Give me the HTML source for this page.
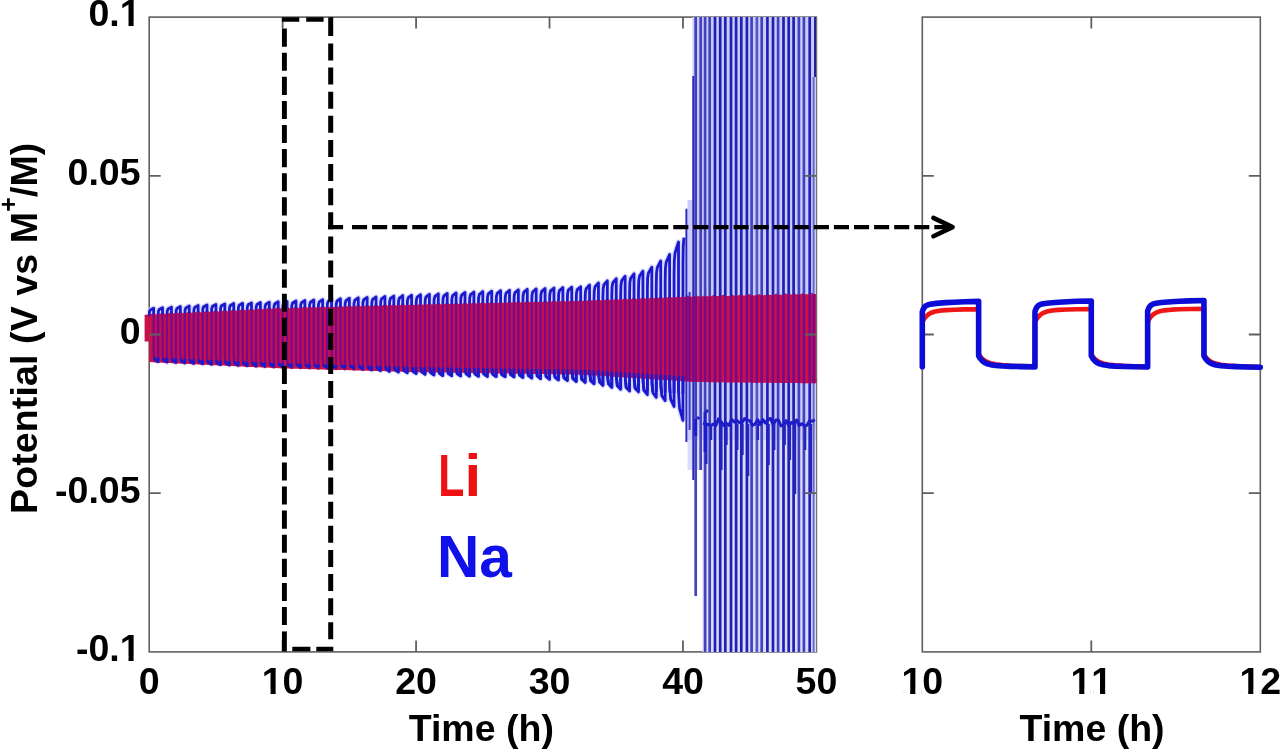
<!DOCTYPE html>
<html><head><meta charset="utf-8"><title>Potential vs Time</title>
<style>html,body{margin:0;padding:0;background:#fff;}body{width:1280px;height:752px;overflow:hidden;}svg{display:block;}</style>
</head><body>
<svg width="1280" height="752" viewBox="0 0 1280 752">
<defs>
<clipPath id="cm"><rect x="143.2" y="17.1" width="673.2" height="634.8"/></clipPath>
<clipPath id="cr"><rect x="918.3" y="17.1" width="342.0" height="634.8"/></clipPath>
<clipPath id="cb"><polygon points="149.2,314.7 152.5,314.5 155.9,314.4 159.2,314.2 162.5,314.1 165.9,313.9 169.2,313.8 172.6,313.6 175.9,313.5 179.2,313.3 182.6,313.2 185.9,313.0 189.2,312.9 192.6,312.7 195.9,312.6 199.2,312.4 202.6,312.3 205.9,312.1 209.2,312.0 212.6,311.8 215.9,311.7 219.3,311.5 222.6,311.3 225.9,311.2 229.3,311.0 232.6,310.8 235.9,310.7 239.3,310.5 242.6,310.3 245.9,310.2 249.3,310.0 252.6,309.8 256.0,309.7 259.3,309.5 262.6,309.3 266.0,309.2 269.3,309.0 272.6,308.8 276.0,308.6 279.3,308.5 282.6,308.3 286.0,308.2 289.3,308.1 292.6,308.1 296.0,308.0 299.3,307.9 302.7,307.8 306.0,307.7 309.3,307.6 312.7,307.5 316.0,307.5 319.3,307.4 322.7,307.3 326.0,307.2 329.3,307.1 332.7,307.0 336.0,307.0 339.4,306.9 342.7,306.8 346.0,306.7 349.4,306.6 352.7,306.5 356.0,306.4 359.4,306.4 362.7,306.3 366.0,306.2 369.4,306.1 372.7,306.0 376.0,305.9 379.4,305.9 382.7,305.8 386.1,305.7 389.4,305.6 392.7,305.5 396.1,305.4 399.4,305.3 402.7,305.3 406.1,305.2 409.4,305.1 412.7,305.0 416.1,304.9 419.4,304.8 422.8,304.8 426.1,304.7 429.4,304.6 432.8,304.5 436.1,304.4 439.4,304.4 442.8,304.3 446.1,304.2 449.4,304.1 452.8,304.1 456.1,304.0 459.4,303.9 462.8,303.8 466.1,303.7 469.5,303.7 472.8,303.6 476.1,303.5 479.5,303.4 482.8,303.3 486.1,303.3 489.5,303.2 492.8,303.1 496.1,303.0 499.5,303.0 502.8,302.9 506.2,302.8 509.5,302.7 512.8,302.6 516.2,302.6 519.5,302.5 522.8,302.4 526.2,302.3 529.5,302.3 532.8,302.2 536.2,302.1 539.5,302.0 542.8,301.9 546.2,301.9 549.5,301.8 552.9,301.7 556.2,301.6 559.5,301.6 562.9,301.5 566.2,301.4 569.5,301.3 572.9,301.2 576.2,301.2 579.5,301.1 582.9,301.0 586.2,300.9 589.6,300.7 592.9,300.6 596.2,300.5 599.6,300.4 602.9,300.2 606.2,300.1 609.6,300.0 612.9,299.8 616.2,299.7 619.6,299.6 622.9,299.4 626.2,299.3 629.6,299.2 632.9,299.0 636.3,298.9 639.6,298.8 642.9,298.7 646.3,298.5 649.6,298.4 652.9,298.3 656.3,298.1 659.6,298.0 662.9,297.9 666.3,297.7 669.6,297.6 673.0,297.5 676.3,297.3 679.6,297.2 683.0,297.1 686.3,297.0 689.6,296.8 693.0,296.7 696.3,296.6 699.6,296.5 703.0,296.4 706.3,296.4 709.6,296.3 713.0,296.2 716.3,296.1 719.7,296.1 723.0,296.0 726.3,295.9 729.7,295.9 733.0,295.8 736.3,295.7 739.7,295.6 743.0,295.6 746.3,295.5 749.7,295.4 753.0,295.4 756.4,295.3 759.7,295.2 763.0,295.2 766.4,295.1 769.7,295.0 773.0,294.9 776.4,294.9 779.7,294.8 783.0,294.7 786.4,294.7 789.7,294.6 793.0,294.5 796.4,294.4 799.7,294.4 803.1,294.3 806.4,294.2 809.7,294.2 813.1,294.1 816.4,294.0 816.4,383.3 813.1,383.3 809.7,383.2 806.4,383.2 803.1,383.2 799.7,383.1 796.4,383.1 793.0,383.0 789.7,383.0 786.4,383.0 783.0,382.9 779.7,382.9 776.4,382.9 773.0,382.8 769.7,382.8 766.4,382.8 763.0,382.7 759.7,382.7 756.4,382.7 753.0,382.6 749.7,382.6 746.3,382.6 743.0,382.5 739.7,382.5 736.3,382.4 733.0,382.4 729.7,382.4 726.3,382.3 723.0,382.3 719.7,382.3 716.3,382.2 713.0,382.2 709.6,382.2 706.3,382.1 703.0,382.1 699.6,382.1 696.3,382.0 693.0,381.8 689.6,381.6 686.3,381.4 683.0,381.2 679.6,380.9 676.3,380.7 673.0,380.5 669.6,380.3 666.3,380.1 662.9,379.9 659.6,379.7 656.3,379.4 652.9,379.2 649.6,379.0 646.3,378.8 642.9,378.6 639.6,378.4 636.3,378.2 632.9,377.9 629.6,377.7 626.2,377.5 622.9,377.3 619.6,377.1 616.2,376.9 612.9,376.7 609.6,376.4 606.2,376.2 602.9,376.0 599.6,375.8 596.2,375.6 592.9,375.4 589.6,375.2 586.2,374.9 582.9,374.7 579.5,374.7 576.2,374.6 572.9,374.6 569.5,374.5 566.2,374.5 562.9,374.4 559.5,374.4 556.2,374.3 552.9,374.3 549.5,374.2 546.2,374.2 542.8,374.1 539.5,374.0 536.2,374.0 532.8,373.9 529.5,373.9 526.2,373.8 522.8,373.8 519.5,373.7 516.2,373.7 512.8,373.6 509.5,373.6 506.2,373.5 502.8,373.5 499.5,373.4 496.1,373.4 492.8,373.3 489.5,373.3 486.1,373.2 482.8,373.2 479.5,373.1 476.1,373.1 472.8,373.0 469.5,373.0 466.1,372.9 462.8,372.8 459.4,372.8 456.1,372.7 452.8,372.7 449.4,372.6 446.1,372.6 442.8,372.5 439.4,372.5 436.1,372.4 432.8,372.4 429.4,372.3 426.1,372.3 422.8,372.2 419.4,372.2 416.1,372.1 412.7,372.0 409.4,371.9 406.1,371.8 402.7,371.7 399.4,371.6 396.1,371.5 392.7,371.4 389.4,371.3 386.1,371.2 382.7,371.1 379.4,371.1 376.0,371.0 372.7,370.9 369.4,370.8 366.0,370.7 362.7,370.6 359.4,370.5 356.0,370.4 352.7,370.3 349.4,370.2 346.0,370.1 342.7,370.0 339.4,369.9 336.0,369.9 332.7,369.8 329.3,369.7 326.0,369.6 322.7,369.5 319.3,369.4 316.0,369.3 312.7,369.2 309.3,369.1 306.0,369.0 302.7,368.9 299.3,368.8 296.0,368.7 292.6,368.7 289.3,368.6 286.0,368.5 282.6,368.4 279.3,368.2 276.0,368.1 272.6,367.9 269.3,367.8 266.0,367.6 262.6,367.5 259.3,367.3 256.0,367.2 252.6,367.0 249.3,366.9 245.9,366.7 242.6,366.6 239.3,366.4 235.9,366.2 232.6,366.1 229.3,365.9 225.9,365.8 222.6,365.6 219.3,365.5 215.9,365.3 212.6,365.2 209.2,365.0 205.9,364.8 202.6,364.7 199.2,364.5 195.9,364.3 192.6,364.2 189.2,364.0 185.9,363.8 182.6,363.7 179.2,363.5 175.9,363.3 172.6,363.2 169.2,363.0 165.9,362.9 162.5,362.7 159.2,362.5 155.9,362.4 152.5,362.2 149.2,362.0"/></clipPath>
<clipPath id="cs"><polygon points="149.2,357.0 152.5,357.2 155.9,357.4 159.2,357.5 162.5,357.7 165.9,357.9 169.2,358.0 172.6,358.2 175.9,358.3 179.2,358.5 182.6,358.7 185.9,358.8 189.2,359.0 192.6,359.2 195.9,359.3 199.2,359.5 202.6,359.7 205.9,359.8 209.2,360.0 212.6,360.2 215.9,360.3 219.3,360.5 222.6,360.6 225.9,360.8 229.3,360.9 232.6,361.1 235.9,361.2 239.3,361.4 242.6,361.6 245.9,361.7 249.3,361.9 252.6,362.0 256.0,362.2 259.3,362.3 262.6,362.5 266.0,362.6 269.3,362.8 272.6,362.9 276.0,363.1 279.3,363.2 282.6,363.4 286.0,363.5 289.3,363.6 292.6,363.7 296.0,363.7 299.3,363.8 302.7,363.9 306.0,364.0 309.3,364.1 312.7,364.2 316.0,364.3 319.3,364.4 322.7,364.5 326.0,364.6 329.3,364.7 332.7,364.8 336.0,364.9 339.4,364.9 342.7,365.0 346.0,365.1 349.4,365.2 352.7,365.3 356.0,365.4 359.4,365.5 362.7,365.6 366.0,365.7 369.4,365.8 372.7,365.9 376.0,366.0 379.4,366.1 382.7,366.1 386.1,366.2 389.4,366.3 392.7,366.4 396.1,366.5 399.4,366.6 402.7,366.7 406.1,366.8 409.4,366.9 412.7,367.0 416.1,367.1 419.4,367.2 422.8,367.2 426.1,367.3 429.4,367.3 432.8,367.4 436.1,367.4 439.4,367.5 442.8,367.5 446.1,367.6 449.4,367.6 452.8,367.7 456.1,367.7 459.4,367.8 462.8,367.8 466.1,367.9 469.5,368.0 472.8,368.0 476.1,368.1 479.5,368.1 482.8,368.2 486.1,368.2 489.5,368.3 492.8,368.3 496.1,368.4 499.5,368.4 502.8,368.5 506.2,368.5 509.5,368.6 512.8,368.6 516.2,368.7 519.5,368.7 522.8,368.8 526.2,368.8 529.5,368.9 532.8,368.9 536.2,369.0 539.5,369.0 542.8,369.1 546.2,369.2 549.5,369.2 552.9,369.3 556.2,369.3 559.5,369.4 562.9,369.4 566.2,369.5 569.5,369.5 572.9,369.6 576.2,369.6 579.5,369.7 582.9,369.7 586.2,369.9 589.6,370.2 592.9,370.4 596.2,370.6 599.6,370.8 602.9,371.0 606.2,371.2 609.6,371.4 612.9,371.7 616.2,371.9 619.6,372.1 622.9,372.3 626.2,372.5 629.6,372.7 632.9,372.9 636.3,373.2 639.6,373.4 642.9,373.6 646.3,373.8 649.6,374.0 652.9,374.2 656.3,374.4 659.6,374.7 662.9,374.9 666.3,375.1 669.6,375.3 673.0,375.5 676.3,375.7 679.6,375.9 683.0,376.2 686.3,376.4 689.6,376.6 693.0,376.8 696.3,377.0 699.6,377.1 703.0,377.1 706.3,377.1 709.6,377.2 713.0,377.2 716.3,377.2 719.7,377.3 723.0,377.3 726.3,377.3 729.7,377.4 733.0,377.4 736.3,377.4 739.7,377.5 743.0,377.5 746.3,377.6 749.7,377.6 753.0,377.6 756.4,377.7 759.7,377.7 763.0,377.7 766.4,377.8 769.7,377.8 773.0,377.8 776.4,377.9 779.7,377.9 783.0,377.9 786.4,378.0 789.7,378.0 793.0,378.0 796.4,378.1 799.7,378.1 803.1,378.2 806.4,378.2 809.7,378.2 813.1,378.3 816.4,378.3 816.4,395.8 813.1,395.8 809.7,395.7 806.4,395.7 803.1,395.7 799.7,395.6 796.4,395.6 793.0,395.5 789.7,395.5 786.4,395.5 783.0,395.4 779.7,395.4 776.4,395.4 773.0,395.3 769.7,395.3 766.4,395.3 763.0,395.2 759.7,395.2 756.4,395.2 753.0,395.1 749.7,395.1 746.3,395.1 743.0,395.0 739.7,395.0 736.3,394.9 733.0,394.9 729.7,394.9 726.3,394.8 723.0,394.8 719.7,394.8 716.3,394.7 713.0,394.7 709.6,394.7 706.3,394.6 703.0,394.6 699.6,394.6 696.3,394.5 693.0,394.3 689.6,394.1 686.3,393.9 683.0,393.7 679.6,393.4 676.3,393.2 673.0,393.0 669.6,392.8 666.3,392.6 662.9,392.4 659.6,392.2 656.3,391.9 652.9,391.7 649.6,391.5 646.3,391.3 642.9,391.1 639.6,390.9 636.3,390.7 632.9,390.4 629.6,390.2 626.2,390.0 622.9,389.8 619.6,389.6 616.2,389.4 612.9,389.2 609.6,388.9 606.2,388.7 602.9,388.5 599.6,388.3 596.2,388.1 592.9,387.9 589.6,387.7 586.2,387.4 582.9,387.2 579.5,387.2 576.2,387.1 572.9,387.1 569.5,387.0 566.2,387.0 562.9,386.9 559.5,386.9 556.2,386.8 552.9,386.8 549.5,386.7 546.2,386.7 542.8,386.6 539.5,386.5 536.2,386.5 532.8,386.4 529.5,386.4 526.2,386.3 522.8,386.3 519.5,386.2 516.2,386.2 512.8,386.1 509.5,386.1 506.2,386.0 502.8,386.0 499.5,385.9 496.1,385.9 492.8,385.8 489.5,385.8 486.1,385.7 482.8,385.7 479.5,385.6 476.1,385.6 472.8,385.5 469.5,385.5 466.1,385.4 462.8,385.3 459.4,385.3 456.1,385.2 452.8,385.2 449.4,385.1 446.1,385.1 442.8,385.0 439.4,385.0 436.1,384.9 432.8,384.9 429.4,384.8 426.1,384.8 422.8,384.7 419.4,384.7 416.1,384.6 412.7,384.5 409.4,384.4 406.1,384.3 402.7,384.2 399.4,384.1 396.1,384.0 392.7,383.9 389.4,383.8 386.1,383.7 382.7,383.6 379.4,383.6 376.0,383.5 372.7,383.4 369.4,383.3 366.0,383.2 362.7,383.1 359.4,383.0 356.0,382.9 352.7,382.8 349.4,382.7 346.0,382.6 342.7,382.5 339.4,382.4 336.0,382.4 332.7,382.3 329.3,382.2 326.0,382.1 322.7,382.0 319.3,381.9 316.0,381.8 312.7,381.7 309.3,381.6 306.0,381.5 302.7,381.4 299.3,381.3 296.0,381.2 292.6,381.2 289.3,381.1 286.0,381.0 282.6,380.9 279.3,380.7 276.0,380.6 272.6,380.4 269.3,380.3 266.0,380.1 262.6,380.0 259.3,379.8 256.0,379.7 252.6,379.5 249.3,379.4 245.9,379.2 242.6,379.1 239.3,378.9 235.9,378.7 232.6,378.6 229.3,378.4 225.9,378.3 222.6,378.1 219.3,378.0 215.9,377.8 212.6,377.7 209.2,377.5 205.9,377.3 202.6,377.2 199.2,377.0 195.9,376.8 192.6,376.7 189.2,376.5 185.9,376.3 182.6,376.2 179.2,376.0 175.9,375.8 172.6,375.7 169.2,375.5 165.9,375.4 162.5,375.2 159.2,375.0 155.9,374.9 152.5,374.7 149.2,374.5"/></clipPath>
</defs>
<rect width="1280" height="752" fill="#fff"/>
<rect x="149.2" y="17.1" width="667.2" height="634.8" fill="none" stroke="#606060" stroke-width="1.6"/>
<g clip-path="url(#cm)">
<path d="M692.5,17.1 H816.4 V440 H687.5 V200 H692.5 Z" fill="#ccccfc"/><path d="M702.5,440 H816.4 V651.9 H702.5 Z" fill="#dcdcfc"/><path d="M687.5,440 H702.5 V470 H687.5 Z" fill="#dcdcfc"/>
<path d="M149.20,316.59 L149.47,311.90 L150.27,309.95 L153.65,308.22 L153.65,351.97 L153.91,356.10 L154.72,359.78 L158.10,361.43 L158.10,316.21 L158.36,311.42 L159.16,309.44 L162.54,307.67 L162.54,352.26 L162.81,356.45 L163.61,360.19 L166.99,361.87 L166.99,315.83 L167.26,310.95 L168.06,308.92 L171.44,307.12 L171.44,352.54 L171.71,356.80 L172.51,360.60 L175.89,362.31 L175.89,315.45 L176.15,310.47 L176.96,308.40 L180.34,306.57 L180.34,352.83 L180.60,357.15 L181.40,361.01 L184.78,362.74 L184.78,315.07 L185.05,309.99 L185.85,307.88 L189.23,306.02 L189.23,353.11 L189.50,357.51 L190.30,361.43 L193.68,363.18 L193.68,314.69 L193.95,309.51 L194.75,307.36 L198.13,305.46 L198.13,353.40 L198.39,357.86 L199.20,361.84 L202.58,363.61 L202.58,314.31 L202.84,309.03 L203.64,306.84 L207.02,304.91 L207.02,353.69 L207.29,358.21 L208.09,362.25 L211.47,364.05 L211.47,313.93 L211.74,308.55 L212.54,306.32 L215.92,304.36 L215.92,353.97 L216.19,358.57 L216.99,362.66 L220.37,364.48 L220.37,313.55 L220.63,308.08 L221.44,305.83 L224.82,303.92 L224.82,354.21 L225.08,358.86 L225.88,363.00 L229.26,364.79 L229.26,313.31 L229.53,307.78 L230.33,305.50 L233.71,303.56 L233.71,354.42 L233.98,359.11 L234.78,363.29 L238.16,365.11 L238.16,313.06 L238.43,307.47 L239.23,305.16 L242.61,303.21 L242.61,354.62 L242.87,359.37 L243.68,363.59 L247.06,365.42 L247.06,312.82 L247.32,307.16 L248.12,304.83 L251.50,302.85 L251.50,354.83 L251.77,359.62 L252.57,363.88 L255.95,365.73 L255.95,312.57 L256.22,306.85 L257.02,304.49 L260.40,302.50 L260.40,355.03 L260.67,359.87 L261.47,364.18 L264.85,366.05 L264.85,312.33 L265.11,306.54 L265.92,304.16 L269.30,302.14 L269.30,355.24 L269.56,360.13 L270.36,364.47 L273.74,366.36 L273.74,312.08 L274.01,306.23 L274.81,303.82 L278.19,301.78 L278.19,355.44 L278.46,360.38 L279.26,364.77 L282.64,366.67 L282.64,311.84 L282.91,305.92 L283.71,303.48 L287.09,301.38 L287.09,355.60 L287.35,360.57 L288.16,364.98 L291.54,366.84 L291.54,311.53 L291.80,305.53 L292.60,303.06 L295.98,300.94 L295.98,355.71 L296.25,360.71 L297.05,365.14 L300.43,367.01 L300.43,311.22 L300.70,305.15 L301.50,302.64 L304.88,300.49 L304.88,355.82 L305.15,360.84 L305.95,365.30 L309.33,367.18 L309.33,310.92 L309.59,304.76 L310.40,302.22 L313.78,300.05 L313.78,355.93 L314.04,360.98 L314.84,365.46 L318.22,367.35 L318.22,310.61 L318.49,304.37 L319.29,301.80 L322.67,299.60 L322.67,356.04 L322.94,361.11 L323.74,365.62 L327.12,367.51 L327.12,310.30 L327.39,303.98 L328.19,301.38 L331.57,299.15 L331.57,356.15 L331.83,361.25 L332.64,365.78 L336.02,367.68 L336.02,309.99 L336.28,303.60 L337.08,300.96 L340.46,298.71 L340.46,356.26 L340.73,361.39 L341.53,365.93 L344.91,367.85 L344.91,309.69 L345.18,303.21 L345.98,300.54 L349.36,298.26 L349.36,356.37 L349.63,361.53 L350.43,366.16 L353.81,368.30 L353.81,309.38 L354.07,302.82 L354.88,300.12 L358.26,297.81 L358.26,356.85 L358.52,362.13 L359.32,366.85 L362.70,369.03 L362.70,309.07 L362.97,302.43 L363.77,299.70 L367.15,297.37 L367.15,357.33 L367.42,362.72 L368.22,367.54 L371.60,369.76 L371.60,308.76 L371.87,302.05 L372.67,299.28 L376.05,296.92 L376.05,357.80 L376.31,363.31 L377.12,368.23 L380.50,370.50 L380.50,308.46 L380.76,301.66 L381.56,298.86 L384.94,296.48 L384.94,358.28 L385.21,363.90 L386.01,368.92 L389.39,371.23 L389.39,308.15 L389.66,301.27 L390.46,298.44 L393.84,296.03 L393.84,358.76 L394.11,364.49 L394.91,369.61 L398.29,371.96 L398.29,307.84 L398.55,300.88 L399.36,298.02 L402.74,295.58 L402.74,359.24 L403.00,365.08 L403.80,370.30 L407.18,372.69 L407.18,307.53 L407.45,300.50 L408.25,297.60 L411.63,295.14 L411.63,359.72 L411.90,365.67 L412.70,370.99 L416.08,373.42 L416.08,307.23 L416.35,300.11 L417.15,297.18 L420.53,294.69 L420.53,360.20 L420.79,366.26 L421.60,371.68 L424.98,374.15 L424.98,306.92 L425.24,299.72 L426.04,296.76 L429.42,294.25 L429.42,360.67 L429.69,366.85 L430.49,372.37 L433.87,374.88 L433.87,306.61 L434.14,299.34 L434.94,296.34 L438.32,293.80 L438.32,361.15 L438.59,367.45 L439.39,373.06 L442.77,375.53 L442.77,306.31 L443.03,298.95 L443.84,295.92 L447.22,293.36 L447.22,361.39 L447.48,367.73 L448.28,373.35 L451.66,375.70 L451.66,306.00 L451.93,298.56 L452.73,295.50 L456.11,292.91 L456.11,361.50 L456.38,367.86 L457.18,373.51 L460.56,375.87 L460.56,305.69 L460.83,298.18 L461.63,295.08 L465.01,292.47 L465.01,361.61 L465.27,368.00 L466.08,373.67 L469.46,376.04 L469.46,305.39 L469.72,297.79 L470.52,294.66 L473.90,292.02 L473.90,361.72 L474.17,368.14 L474.97,373.82 L478.35,376.21 L478.35,305.08 L478.62,297.40 L479.42,294.24 L482.80,291.58 L482.80,361.83 L483.07,368.27 L483.87,373.98 L487.25,376.38 L487.25,304.77 L487.51,297.02 L488.32,293.82 L491.70,291.13 L491.70,361.94 L491.96,368.41 L492.76,374.14 L496.14,376.54 L496.14,304.47 L496.41,296.63 L497.21,293.40 L500.59,290.69 L500.59,362.06 L500.86,368.55 L501.66,374.30 L505.04,376.71 L505.04,304.16 L505.31,296.24 L506.11,292.99 L509.49,290.24 L509.49,362.17 L509.75,368.68 L510.56,374.46 L513.94,376.88 L513.94,303.85 L514.20,295.86 L515.00,292.57 L518.38,289.80 L518.38,362.35 L518.65,368.92 L519.45,374.78 L522.83,377.38 L522.83,303.55 L523.10,295.47 L523.90,292.15 L527.28,289.35 L527.28,362.75 L527.55,369.41 L528.35,375.35 L531.73,377.99 L531.73,303.24 L531.99,295.08 L532.80,291.73 L536.18,288.91 L536.18,363.14 L536.44,369.90 L537.24,375.92 L540.62,378.60 L540.62,302.93 L540.89,294.70 L541.69,291.31 L545.07,288.46 L545.07,363.54 L545.34,370.39 L546.14,376.50 L549.52,379.21 L549.52,302.63 L549.79,294.31 L550.59,290.89 L553.97,288.02 L553.97,363.94 L554.23,370.88 L555.04,377.07 L558.42,379.81 L558.42,302.32 L558.68,293.92 L559.48,290.47 L562.86,287.57 L562.86,364.34 L563.13,371.38 L563.93,377.65 L567.31,380.47 L567.31,302.01 L567.58,293.54 L568.38,290.05 L571.76,287.13 L571.76,364.86 L572.03,372.02 L572.83,378.43 L576.21,381.35 L576.21,301.71 L576.47,293.15 L577.28,289.63 L580.66,286.68 L580.66,365.43 L580.92,372.73 L581.72,379.25 L585.10,382.33 L585.10,301.12 L585.37,292.36 L586.17,288.64 L589.55,285.00 L589.55,366.22 L589.82,373.72 L590.62,380.45 L594.00,383.66 L594.00,299.68 L594.27,290.55 L595.07,286.67 L598.45,282.91 L598.45,367.09 L598.71,374.79 L599.52,381.70 L602.90,385.21 L602.90,298.24 L603.16,288.74 L603.96,284.71 L607.34,280.83 L607.34,368.35 L607.61,376.36 L608.41,383.60 L611.79,387.28 L611.79,296.80 L612.06,286.92 L612.86,282.74 L616.24,278.64 L616.24,369.70 L616.51,378.04 L617.31,385.56 L620.69,389.33 L620.69,295.19 L620.95,284.88 L621.76,280.50 L625.14,276.24 L625.14,370.99 L625.40,379.63 L626.20,387.40 L629.58,390.99 L629.58,293.54 L629.85,282.80 L630.65,278.24 L634.03,273.84 L634.03,371.52 L634.30,380.24 L635.10,387.97 L638.48,391.87 L638.48,291.88 L638.75,280.71 L639.55,275.98 L642.93,271.17 L642.93,372.96 L643.19,382.09 L644.00,390.36 L647.38,394.63 L647.38,289.74 L647.64,277.99 L648.44,272.96 L651.82,267.15 L651.82,374.66 L652.09,384.18 L652.89,392.78 L656.27,397.33 L656.27,285.94 L656.54,273.12 L657.34,267.42 L660.72,261.00 L660.72,376.59 L660.99,386.57 L661.79,395.61 L665.17,400.62 L665.17,281.91 L665.43,268.06 L666.24,261.98 L669.62,254.51 L669.62,379.08 L669.88,389.67 L670.68,399.32 L674.06,406.45 L674.06,275.55 L674.33,259.90 L675.13,252.68 L678.51,241.98 L678.51,384.54 L678.78,396.54 L679.58,408.48 L682.96,420.29 L682.96,265.00 L683.23,246.46 L684.03,237.63" fill="none" stroke="#d0d0fa" stroke-width="5.4" stroke-linejoin="round" opacity="0.8"/>
<path d="M149.20,325.36 L149.47,321.29 L150.27,317.11 L153.65,315.40 L153.65,350.25 L153.91,353.94 L154.72,358.03 L158.10,360.54 L158.10,325.17 L158.36,321.02 L159.16,316.75 L162.54,315.00 L162.54,350.51 L162.81,354.27 L163.61,358.42 L166.99,360.97 L166.99,324.98 L167.26,320.74 L168.06,316.39 L171.44,314.61 L171.44,350.77 L171.71,354.59 L172.51,358.81 L175.89,361.40 L175.89,324.78 L176.15,320.46 L176.96,316.02 L180.34,314.21 L180.34,351.04 L180.60,354.92 L181.40,359.21 L184.78,361.83 L184.78,324.59 L185.05,320.19 L185.85,315.66 L189.23,313.82 L189.23,351.30 L189.50,355.24 L190.30,359.60 L193.68,362.26 L193.68,324.40 L193.95,319.91 L194.75,315.30 L198.13,313.42 L198.13,351.57 L198.39,355.57 L199.20,359.99 L202.58,362.70 L202.58,324.21 L202.84,319.63 L203.64,314.93 L207.02,313.02 L207.02,351.83 L207.29,355.89 L208.09,360.39 L211.47,363.13 L211.47,324.02 L211.74,319.36 L212.54,314.57 L215.92,312.63 L215.92,352.09 L216.19,356.22 L216.99,360.78 L220.37,363.56 L220.37,323.82 L220.63,319.08 L221.44,314.20 L224.82,312.20 L224.82,352.34 L225.08,356.53 L225.88,361.15 L229.26,363.96 L229.26,323.61 L229.53,318.76 L230.33,313.79 L233.71,311.76 L233.71,352.59 L233.98,356.83 L234.78,361.51 L238.16,364.36 L238.16,323.39 L238.43,318.45 L239.23,313.38 L242.61,311.31 L242.61,352.83 L242.87,357.13 L243.68,361.88 L247.06,364.75 L247.06,323.18 L247.32,318.14 L248.12,312.97 L251.50,310.86 L251.50,353.07 L251.77,357.43 L252.57,362.24 L255.95,365.15 L255.95,322.96 L256.22,317.83 L257.02,312.56 L260.40,310.41 L260.40,353.32 L260.67,357.73 L261.47,362.60 L264.85,365.55 L264.85,322.74 L265.11,317.52 L265.92,312.15 L269.30,309.97 L269.30,353.56 L269.56,358.03 L270.36,362.96 L273.74,365.95 L273.74,322.53 L274.01,317.20 L274.81,311.74 L278.19,309.52 L278.19,353.80 L278.46,358.33 L279.26,363.33 L282.64,366.35 L282.64,322.31 L282.91,316.90 L283.71,311.35 L287.09,309.19 L287.09,354.00 L287.35,358.57 L288.16,363.60 L291.54,366.59 L291.54,322.20 L291.80,316.74 L292.60,311.15 L295.98,308.96 L295.98,354.15 L296.25,358.75 L297.05,363.82 L300.43,366.83 L300.43,322.09 L300.70,316.58 L301.50,310.94 L304.88,308.74 L304.88,354.29 L305.15,358.93 L305.95,364.04 L309.33,367.08 L309.33,321.99 L309.59,316.43 L310.40,310.74 L313.78,308.51 L313.78,354.44 L314.04,359.11 L314.84,364.26 L318.22,367.32 L318.22,321.88 L318.49,316.27 L319.29,310.53 L322.67,308.29 L322.67,354.59 L322.94,359.30 L323.74,364.48 L327.12,367.56 L327.12,321.77 L327.39,316.11 L328.19,310.32 L331.57,308.06 L331.57,354.74 L331.83,359.48 L332.64,364.70 L336.02,367.80 L336.02,321.66 L336.28,315.96 L337.08,310.12 L340.46,307.84 L340.46,354.89 L340.73,359.66 L341.53,364.92 L344.91,368.05 L344.91,321.55 L345.18,315.80 L345.98,309.91 L349.36,307.62 L349.36,355.03 L349.63,359.84 L350.43,365.14 L353.81,368.29 L353.81,321.44 L354.07,315.64 L354.88,309.71 L358.26,307.39 L358.26,355.18 L358.52,360.03 L359.32,365.36 L362.70,368.53 L362.70,321.34 L362.97,315.49 L363.77,309.50 L367.15,307.17 L367.15,355.33 L367.42,360.21 L368.22,365.59 L371.60,368.77 L371.60,321.23 L371.87,315.33 L372.67,309.30 L376.05,306.94 L376.05,355.48 L376.31,360.39 L377.12,365.81 L380.50,369.02 L380.50,321.12 L380.76,315.17 L381.56,309.09 L384.94,306.72 L384.94,355.63 L385.21,360.57 L386.01,366.03 L389.39,369.26 L389.39,321.01 L389.66,315.02 L390.46,308.88 L393.84,306.49 L393.84,355.77 L394.11,360.76 L394.91,366.25 L398.29,369.50 L398.29,320.90 L398.55,314.86 L399.36,308.68 L402.74,306.27 L402.74,355.92 L403.00,360.94 L403.80,366.47 L407.18,369.74 L407.18,320.79 L407.45,314.70 L408.25,308.47 L411.63,306.05 L411.63,356.07 L411.90,361.12 L412.70,366.69 L416.08,369.99 L416.08,320.68 L416.35,314.55 L417.15,308.27 L420.53,305.82 L420.53,356.21 L420.79,361.30 L421.60,366.89 L424.98,370.17 L424.98,320.58 L425.24,314.40 L426.04,308.07 L429.42,305.62 L429.42,356.30 L429.69,361.40 L430.49,367.02 L433.87,370.31 L433.87,320.48 L434.14,314.25 L434.94,307.88 L438.32,305.41 L438.32,356.38 L438.59,361.50 L439.39,367.14 L442.77,370.44 L442.77,320.38 L443.03,314.11 L443.84,307.69 L447.22,305.20 L447.22,356.46 L447.48,361.61 L448.28,367.26 L451.66,370.58 L451.66,320.28 L451.93,313.97 L452.73,307.50 L456.11,305.00 L456.11,356.55 L456.38,361.71 L457.18,367.39 L460.56,370.72 L460.56,320.18 L460.83,313.82 L461.63,307.31 L465.01,304.79 L465.01,356.63 L465.27,361.81 L466.08,367.51 L469.46,370.85 L469.46,320.08 L469.72,313.68 L470.52,307.12 L473.90,304.58 L473.90,356.71 L474.17,361.91 L474.97,367.64 L478.35,370.99 L478.35,319.98 L478.62,313.53 L479.42,306.93 L482.80,304.38 L482.80,356.80 L483.07,362.02 L483.87,367.76 L487.25,371.13 L487.25,319.88 L487.51,313.39 L488.32,306.75 L491.70,304.17 L491.70,356.88 L491.96,362.12 L492.76,367.89 L496.14,371.26 L496.14,319.78 L496.41,313.24 L497.21,306.56 L500.59,303.96 L500.59,356.96 L500.86,362.22 L501.66,368.01 L505.04,371.40 L505.04,319.68 L505.31,313.10 L506.11,306.37 L509.49,303.76 L509.49,357.05 L509.75,362.32 L510.56,368.13 L513.94,371.54 L513.94,319.58 L514.20,312.96 L515.00,306.18 L518.38,303.55 L518.38,357.13 L518.65,362.43 L519.45,368.26 L522.83,371.67 L522.83,319.48 L523.10,312.81 L523.90,305.99 L527.28,303.34 L527.28,357.21 L527.55,362.53 L528.35,368.38 L531.73,371.81 L531.73,319.38 L531.99,312.67 L532.80,305.80 L536.18,303.14 L536.18,357.30 L536.44,362.63 L537.24,368.51 L540.62,371.94 L540.62,319.28 L540.89,312.52 L541.69,305.61 L545.07,302.93 L545.07,357.38 L545.34,362.74 L546.14,368.63 L549.52,372.08 L549.52,319.18 L549.79,312.38 L550.59,305.42 L553.97,302.72 L553.97,357.46 L554.23,362.84 L555.04,368.75 L558.42,372.22 L558.42,319.08 L558.68,312.23 L559.48,305.23 L562.86,302.52 L562.86,357.55 L563.13,362.94 L563.93,368.88 L567.31,372.35 L567.31,318.98 L567.58,312.09 L568.38,305.04 L571.76,302.31 L571.76,357.63 L572.03,363.04 L572.83,369.00 L576.21,372.49 L576.21,318.88 L576.47,311.95 L577.28,304.85 L580.66,302.10 L580.66,357.71 L580.92,363.15 L581.72,369.13 L585.10,372.73 L585.10,318.77 L585.37,311.77 L586.17,304.61 L589.55,301.79 L589.55,357.99 L589.82,363.50 L590.62,369.59 L594.00,373.30 L594.00,318.60 L594.27,311.53 L595.07,304.30 L598.45,301.45 L598.45,358.33 L598.71,363.92 L599.52,370.10 L602.90,373.86 L602.90,318.43 L603.16,311.29 L603.96,303.98 L607.34,301.10 L607.34,358.68 L607.61,364.35 L608.41,370.61 L611.79,374.42 L611.79,318.26 L612.06,311.05 L612.86,303.66 L616.24,300.75 L616.24,359.02 L616.51,364.77 L617.31,371.13 L620.69,374.99 L620.69,318.10 L620.95,310.81 L621.76,303.34 L625.14,300.41 L625.14,359.37 L625.40,365.20 L626.20,371.64 L629.58,375.55 L629.58,317.93 L629.85,310.57 L630.65,303.03 L634.03,300.06 L634.03,359.71 L634.30,365.62 L635.10,372.15 L638.48,376.11 L638.48,317.76 L638.75,310.33 L639.55,302.71 L642.93,299.72 L642.93,360.05 L643.19,366.04 L644.00,372.66 L647.38,376.68 L647.38,317.59 L647.64,310.08 L648.44,302.39 L651.82,299.37 L651.82,360.40 L652.09,366.47 L652.89,373.17 L656.27,377.24 L656.27,317.43 L656.54,309.84 L657.34,302.07 L660.72,299.03 L660.72,360.74 L660.99,366.89 L661.79,373.69 L665.17,377.80 L665.17,317.26 L665.43,309.60 L666.24,301.76 L669.62,298.68 L669.62,361.08 L669.88,367.32 L670.68,374.20 L674.06,378.37 L674.06,317.09 L674.33,309.36 L675.13,301.44 L678.51,298.33 L678.51,361.43 L678.78,367.74 L679.58,374.71 L682.96,378.93 L682.96,316.93 L683.23,309.12 L684.03,301.12 L687.41,297.99 L687.41,361.77 L687.67,368.16 L688.48,375.22 L691.86,379.49 L691.86,316.76 L692.12,308.88 L692.92,300.80 L696.30,297.64 L696.30,362.11 L696.57,368.58 L697.37,375.68 L700.75,379.82 L700.75,316.63 L701.02,308.69 L701.82,300.58 L705.20,297.45 L705.20,362.17 L705.47,368.65 L706.27,375.77 L709.65,379.91 L709.65,316.54 L709.91,308.56 L710.72,300.41 L714.10,297.27 L714.10,362.23 L714.36,368.72 L715.16,375.85 L718.54,380.01 L718.54,316.45 L718.81,308.43 L719.61,300.24 L722.99,297.08 L722.99,362.28 L723.26,368.79 L724.06,375.94 L727.44,380.10 L727.44,316.36 L727.71,308.30 L728.51,300.06 L731.89,296.89 L731.89,362.34 L732.15,368.85 L732.96,376.02 L736.34,380.19 L736.34,316.27 L736.60,308.17 L737.40,299.89 L740.78,296.71 L740.78,362.40 L741.05,368.92 L741.85,376.10 L745.23,380.28 L745.23,316.18 L745.50,308.04 L746.30,299.72 L749.68,296.52 L749.68,362.45 L749.95,368.99 L750.75,376.19 L754.13,380.38 L754.13,316.09 L754.39,307.91 L755.20,299.55 L758.58,296.33 L758.58,362.51 L758.84,369.06 L759.64,376.27 L763.02,380.47 L763.02,316.00 L763.29,307.78 L764.09,299.38 L767.47,296.15 L767.47,362.57 L767.74,369.13 L768.54,376.36 L771.92,380.56 L771.92,315.91 L772.19,307.65 L772.99,299.21 L776.37,295.96 L776.37,362.62 L776.63,369.20 L777.44,376.44 L780.82,380.65 L780.82,315.82 L781.08,307.52 L781.88,299.04 L785.26,295.77 L785.26,362.68 L785.53,369.27 L786.33,376.53 L789.71,380.75 L789.71,315.73 L789.98,307.39 L790.78,298.87 L794.16,295.59 L794.16,362.73 L794.43,369.34 L795.23,376.61 L798.61,380.84 L798.61,315.64 L798.87,307.26 L799.68,298.69 L803.06,295.40 L803.06,362.79 L803.32,369.41 L804.12,376.69 L807.50,380.93 L807.50,315.55 L807.77,307.13 L808.57,298.52 L811.95,295.21 L811.95,362.85 L812.22,369.48 L813.02,376.78 L816.40,381.02" fill="none" stroke="#ca1048" stroke-width="4.6" stroke-linejoin="round"/>
<path d="M146.9,341.5 V314.8" stroke="#ca1048" stroke-width="4.6"/>
<path d="M149.20,316.59 L149.47,311.90 L150.27,309.95 L153.65,308.22 L153.65,351.97 L153.91,356.10 L154.72,359.78 L158.10,361.43 L158.10,316.21 L158.36,311.42 L159.16,309.44 L162.54,307.67 L162.54,352.26 L162.81,356.45 L163.61,360.19 L166.99,361.87 L166.99,315.83 L167.26,310.95 L168.06,308.92 L171.44,307.12 L171.44,352.54 L171.71,356.80 L172.51,360.60 L175.89,362.31 L175.89,315.45 L176.15,310.47 L176.96,308.40 L180.34,306.57 L180.34,352.83 L180.60,357.15 L181.40,361.01 L184.78,362.74 L184.78,315.07 L185.05,309.99 L185.85,307.88 L189.23,306.02 L189.23,353.11 L189.50,357.51 L190.30,361.43 L193.68,363.18 L193.68,314.69 L193.95,309.51 L194.75,307.36 L198.13,305.46 L198.13,353.40 L198.39,357.86 L199.20,361.84 L202.58,363.61 L202.58,314.31 L202.84,309.03 L203.64,306.84 L207.02,304.91 L207.02,353.69 L207.29,358.21 L208.09,362.25 L211.47,364.05 L211.47,313.93 L211.74,308.55 L212.54,306.32 L215.92,304.36 L215.92,353.97 L216.19,358.57 L216.99,362.66 L220.37,364.48 L220.37,313.55 L220.63,308.08 L221.44,305.83 L224.82,303.92 L224.82,354.21 L225.08,358.86 L225.88,363.00 L229.26,364.79 L229.26,313.31 L229.53,307.78 L230.33,305.50 L233.71,303.56 L233.71,354.42 L233.98,359.11 L234.78,363.29 L238.16,365.11 L238.16,313.06 L238.43,307.47 L239.23,305.16 L242.61,303.21 L242.61,354.62 L242.87,359.37 L243.68,363.59 L247.06,365.42 L247.06,312.82 L247.32,307.16 L248.12,304.83 L251.50,302.85 L251.50,354.83 L251.77,359.62 L252.57,363.88 L255.95,365.73 L255.95,312.57 L256.22,306.85 L257.02,304.49 L260.40,302.50 L260.40,355.03 L260.67,359.87 L261.47,364.18 L264.85,366.05 L264.85,312.33 L265.11,306.54 L265.92,304.16 L269.30,302.14 L269.30,355.24 L269.56,360.13 L270.36,364.47 L273.74,366.36 L273.74,312.08 L274.01,306.23 L274.81,303.82 L278.19,301.78 L278.19,355.44 L278.46,360.38 L279.26,364.77 L282.64,366.67 L282.64,311.84 L282.91,305.92 L283.71,303.48 L287.09,301.38 L287.09,355.60 L287.35,360.57 L288.16,364.98 L291.54,366.84 L291.54,311.53 L291.80,305.53 L292.60,303.06 L295.98,300.94 L295.98,355.71 L296.25,360.71 L297.05,365.14 L300.43,367.01 L300.43,311.22 L300.70,305.15 L301.50,302.64 L304.88,300.49 L304.88,355.82 L305.15,360.84 L305.95,365.30 L309.33,367.18 L309.33,310.92 L309.59,304.76 L310.40,302.22 L313.78,300.05 L313.78,355.93 L314.04,360.98 L314.84,365.46 L318.22,367.35 L318.22,310.61 L318.49,304.37 L319.29,301.80 L322.67,299.60 L322.67,356.04 L322.94,361.11 L323.74,365.62 L327.12,367.51 L327.12,310.30 L327.39,303.98 L328.19,301.38 L331.57,299.15 L331.57,356.15 L331.83,361.25 L332.64,365.78 L336.02,367.68 L336.02,309.99 L336.28,303.60 L337.08,300.96 L340.46,298.71 L340.46,356.26 L340.73,361.39 L341.53,365.93 L344.91,367.85 L344.91,309.69 L345.18,303.21 L345.98,300.54 L349.36,298.26 L349.36,356.37 L349.63,361.53 L350.43,366.16 L353.81,368.30 L353.81,309.38 L354.07,302.82 L354.88,300.12 L358.26,297.81 L358.26,356.85 L358.52,362.13 L359.32,366.85 L362.70,369.03 L362.70,309.07 L362.97,302.43 L363.77,299.70 L367.15,297.37 L367.15,357.33 L367.42,362.72 L368.22,367.54 L371.60,369.76 L371.60,308.76 L371.87,302.05 L372.67,299.28 L376.05,296.92 L376.05,357.80 L376.31,363.31 L377.12,368.23 L380.50,370.50 L380.50,308.46 L380.76,301.66 L381.56,298.86 L384.94,296.48 L384.94,358.28 L385.21,363.90 L386.01,368.92 L389.39,371.23 L389.39,308.15 L389.66,301.27 L390.46,298.44 L393.84,296.03 L393.84,358.76 L394.11,364.49 L394.91,369.61 L398.29,371.96 L398.29,307.84 L398.55,300.88 L399.36,298.02 L402.74,295.58 L402.74,359.24 L403.00,365.08 L403.80,370.30 L407.18,372.69 L407.18,307.53 L407.45,300.50 L408.25,297.60 L411.63,295.14 L411.63,359.72 L411.90,365.67 L412.70,370.99 L416.08,373.42 L416.08,307.23 L416.35,300.11 L417.15,297.18 L420.53,294.69 L420.53,360.20 L420.79,366.26 L421.60,371.68 L424.98,374.15 L424.98,306.92 L425.24,299.72 L426.04,296.76 L429.42,294.25 L429.42,360.67 L429.69,366.85 L430.49,372.37 L433.87,374.88 L433.87,306.61 L434.14,299.34 L434.94,296.34 L438.32,293.80 L438.32,361.15 L438.59,367.45 L439.39,373.06 L442.77,375.53 L442.77,306.31 L443.03,298.95 L443.84,295.92 L447.22,293.36 L447.22,361.39 L447.48,367.73 L448.28,373.35 L451.66,375.70 L451.66,306.00 L451.93,298.56 L452.73,295.50 L456.11,292.91 L456.11,361.50 L456.38,367.86 L457.18,373.51 L460.56,375.87 L460.56,305.69 L460.83,298.18 L461.63,295.08 L465.01,292.47 L465.01,361.61 L465.27,368.00 L466.08,373.67 L469.46,376.04 L469.46,305.39 L469.72,297.79 L470.52,294.66 L473.90,292.02 L473.90,361.72 L474.17,368.14 L474.97,373.82 L478.35,376.21 L478.35,305.08 L478.62,297.40 L479.42,294.24 L482.80,291.58 L482.80,361.83 L483.07,368.27 L483.87,373.98 L487.25,376.38 L487.25,304.77 L487.51,297.02 L488.32,293.82 L491.70,291.13 L491.70,361.94 L491.96,368.41 L492.76,374.14 L496.14,376.54 L496.14,304.47 L496.41,296.63 L497.21,293.40 L500.59,290.69 L500.59,362.06 L500.86,368.55 L501.66,374.30 L505.04,376.71 L505.04,304.16 L505.31,296.24 L506.11,292.99 L509.49,290.24 L509.49,362.17 L509.75,368.68 L510.56,374.46 L513.94,376.88 L513.94,303.85 L514.20,295.86 L515.00,292.57 L518.38,289.80 L518.38,362.35 L518.65,368.92 L519.45,374.78 L522.83,377.38 L522.83,303.55 L523.10,295.47 L523.90,292.15 L527.28,289.35 L527.28,362.75 L527.55,369.41 L528.35,375.35 L531.73,377.99 L531.73,303.24 L531.99,295.08 L532.80,291.73 L536.18,288.91 L536.18,363.14 L536.44,369.90 L537.24,375.92 L540.62,378.60 L540.62,302.93 L540.89,294.70 L541.69,291.31 L545.07,288.46 L545.07,363.54 L545.34,370.39 L546.14,376.50 L549.52,379.21 L549.52,302.63 L549.79,294.31 L550.59,290.89 L553.97,288.02 L553.97,363.94 L554.23,370.88 L555.04,377.07 L558.42,379.81 L558.42,302.32 L558.68,293.92 L559.48,290.47 L562.86,287.57 L562.86,364.34 L563.13,371.38 L563.93,377.65 L567.31,380.47 L567.31,302.01 L567.58,293.54 L568.38,290.05 L571.76,287.13 L571.76,364.86 L572.03,372.02 L572.83,378.43 L576.21,381.35 L576.21,301.71 L576.47,293.15 L577.28,289.63 L580.66,286.68 L580.66,365.43 L580.92,372.73 L581.72,379.25 L585.10,382.33 L585.10,301.12 L585.37,292.36 L586.17,288.64 L589.55,285.00 L589.55,366.22 L589.82,373.72 L590.62,380.45 L594.00,383.66 L594.00,299.68 L594.27,290.55 L595.07,286.67 L598.45,282.91 L598.45,367.09 L598.71,374.79 L599.52,381.70 L602.90,385.21 L602.90,298.24 L603.16,288.74 L603.96,284.71 L607.34,280.83 L607.34,368.35 L607.61,376.36 L608.41,383.60 L611.79,387.28 L611.79,296.80 L612.06,286.92 L612.86,282.74 L616.24,278.64 L616.24,369.70 L616.51,378.04 L617.31,385.56 L620.69,389.33 L620.69,295.19 L620.95,284.88 L621.76,280.50 L625.14,276.24 L625.14,370.99 L625.40,379.63 L626.20,387.40 L629.58,390.99 L629.58,293.54 L629.85,282.80 L630.65,278.24 L634.03,273.84 L634.03,371.52 L634.30,380.24 L635.10,387.97 L638.48,391.87 L638.48,291.88 L638.75,280.71 L639.55,275.98 L642.93,271.17 L642.93,372.96 L643.19,382.09 L644.00,390.36 L647.38,394.63 L647.38,289.74 L647.64,277.99 L648.44,272.96 L651.82,267.15 L651.82,374.66 L652.09,384.18 L652.89,392.78 L656.27,397.33 L656.27,285.94 L656.54,273.12 L657.34,267.42 L660.72,261.00 L660.72,376.59 L660.99,386.57 L661.79,395.61 L665.17,400.62 L665.17,281.91 L665.43,268.06 L666.24,261.98 L669.62,254.51 L669.62,379.08 L669.88,389.67 L670.68,399.32 L674.06,406.45 L674.06,275.55 L674.33,259.90 L675.13,252.68 L678.51,241.98 L678.51,384.54 L678.78,396.54 L679.58,408.48 L682.96,420.29 L682.96,265.00 L683.23,246.46 L684.03,237.63" fill="none" stroke="#1a1acc" stroke-width="2.8" stroke-linejoin="round"/>
<path d="M695.7,17.1 V596" stroke="#4242bc" stroke-width="2.7"/><path d="M700.7,17.1 V470" stroke="#4242bc" stroke-width="2.7"/><path d="M705.1,17.1 V651.9" stroke="#4242bc" stroke-width="2.7"/><path d="M709.7,17.1 V651.9" stroke="#4242bc" stroke-width="2.7"/><path d="M715.0,17.1 V651.9" stroke="#2020b4" stroke-width="2.7"/><path d="M720.2,17.1 V651.9" stroke="#2020b4" stroke-width="2.7"/><path d="M725.3,17.1 V651.9" stroke="#2020b4" stroke-width="2.7"/><path d="M731.0,17.1 V651.9" stroke="#2020b4" stroke-width="2.7"/><path d="M736.1,17.1 V651.9" stroke="#2020b4" stroke-width="2.7"/><path d="M741.3,17.1 V651.9" stroke="#2020b4" stroke-width="2.7"/><path d="M746.9,17.1 V651.9" stroke="#2020b4" stroke-width="2.7"/><path d="M751.6,17.1 V651.9" stroke="#4242bc" stroke-width="2.7"/><path d="M756.9,17.1 V651.9" stroke="#5454c4" stroke-width="2.7"/><path d="M761.7,17.1 V651.9" stroke="#4242bc" stroke-width="2.7"/><path d="M767.4,17.1 V651.9" stroke="#2020b4" stroke-width="2.7"/><path d="M773.0,17.1 V651.9" stroke="#2020b4" stroke-width="2.7"/><path d="M778.1,17.1 V651.9" stroke="#4242bc" stroke-width="2.7"/><path d="M783.5,17.1 V651.9" stroke="#2020b4" stroke-width="2.7"/><path d="M788.7,17.1 V651.9" stroke="#2020b4" stroke-width="2.7"/><path d="M793.6,17.1 V651.9" stroke="#2020b4" stroke-width="2.7"/><path d="M798.9,17.1 V651.9" stroke="#4242bc" stroke-width="2.7"/><path d="M803.9,17.1 V651.9" stroke="#4242bc" stroke-width="2.7"/><path d="M809.7,17.1 V651.9" stroke="#2020b4" stroke-width="2.7"/>
<path d="M686.4,302.8 V208.8" stroke="#2a2ac0" stroke-width="2" fill="none"/><path d="M686.4,300.0 V442.0" stroke="#2a2ac0" stroke-width="2" fill="none"/><path d="M689.6,292.0 V430.0" stroke="#3a3ac8" stroke-width="2" fill="none"/><path d="M693.3,76.0 V480.0" stroke="#2a2ab8" stroke-width="2" fill="none"/><path d="M815.0,17.1 V77.0" stroke="#22229a" stroke-width="2" fill="none"/><path d="M813.6,77.0 V651.9" stroke="#6a6ac4" stroke-width="2" fill="none"/>
<path d="M703.0,423.2 L705.6,424.1 L708.2,424.5 L710.8,425.6 L713.4,424.0 L716.0,425.4 L718.6,418.7 L721.2,422.0 L723.8,425.6 L726.4,423.4 L729.0,425.3 L731.6,419.3 L734.2,422.0 L736.8,420.3 L739.4,422.6 L742.0,422.8 L744.6,418.6 L747.2,420.1 L749.8,420.6 L752.4,425.4 L755.0,424.2 L757.6,419.7 L760.2,424.5 L762.8,419.5 L765.4,423.1 L768.0,419.5 L770.6,418.5 L773.2,425.0 L775.8,420.1 L778.4,420.1 L781.0,425.9 L783.6,425.0 L786.2,420.7 L788.8,425.7 L791.4,422.5 L794.0,423.6 L796.6,420.0 L799.2,425.6 L801.8,423.7 L804.4,425.7 L807.0,425.2 L809.6,420.7 L812.2,421.2 L814.8,419.7" stroke="#1c1cc8" stroke-width="3" fill="none" stroke-linejoin="round"/>
<path d="M706.3,424 V464" stroke="#2424c0" stroke-width="2.4" fill="none"/><path d="M711.0,424 V440" stroke="#2424c0" stroke-width="2.4" fill="none"/><path d="M721.4,424 V470" stroke="#2424c0" stroke-width="2.4" fill="none"/><path d="M726.5,424 V445" stroke="#2424c0" stroke-width="2.4" fill="none"/><path d="M737.3,424 V450" stroke="#2424c0" stroke-width="2.4" fill="none"/><path d="M742.5,424 V455" stroke="#2424c0" stroke-width="2.4" fill="none"/><path d="M748.1,424 V476" stroke="#2424c0" stroke-width="2.4" fill="none"/><path d="M757.8,424 V440" stroke="#2424c0" stroke-width="2.4" fill="none"/><path d="M768.6,424 V465" stroke="#2424c0" stroke-width="2.4" fill="none"/><path d="M774.2,424 V450" stroke="#2424c0" stroke-width="2.4" fill="none"/><path d="M784.7,424 V445" stroke="#2424c0" stroke-width="2.4" fill="none"/><path d="M789.9,424 V460" stroke="#2424c0" stroke-width="2.4" fill="none"/><path d="M795.0,424 V494" stroke="#2424c0" stroke-width="2.4" fill="none"/><path d="M805.1,424 V450" stroke="#2424c0" stroke-width="2.4" fill="none"/><path d="M810.9,424 V494" stroke="#2424c0" stroke-width="2.4" fill="none"/>
<path d="M697.5,419 L699,417 M695.7,419 V436 M706,412 L708,410 M705.1,412 V452" stroke="#1c1cc8" stroke-width="3" fill="none"/>
</g>
<g clip-path="url(#cb)">
<rect x="143.2" y="250" width="673.2" height="160" fill="#ca1048"/>
<path d="M149.20,316.59 L149.47,311.90 L150.27,309.95 L153.65,308.22 L153.65,351.97 L153.91,356.10 L154.72,359.78 L158.10,361.43 L158.10,316.21 L158.36,311.42 L159.16,309.44 L162.54,307.67 L162.54,352.26 L162.81,356.45 L163.61,360.19 L166.99,361.87 L166.99,315.83 L167.26,310.95 L168.06,308.92 L171.44,307.12 L171.44,352.54 L171.71,356.80 L172.51,360.60 L175.89,362.31 L175.89,315.45 L176.15,310.47 L176.96,308.40 L180.34,306.57 L180.34,352.83 L180.60,357.15 L181.40,361.01 L184.78,362.74 L184.78,315.07 L185.05,309.99 L185.85,307.88 L189.23,306.02 L189.23,353.11 L189.50,357.51 L190.30,361.43 L193.68,363.18 L193.68,314.69 L193.95,309.51 L194.75,307.36 L198.13,305.46 L198.13,353.40 L198.39,357.86 L199.20,361.84 L202.58,363.61 L202.58,314.31 L202.84,309.03 L203.64,306.84 L207.02,304.91 L207.02,353.69 L207.29,358.21 L208.09,362.25 L211.47,364.05 L211.47,313.93 L211.74,308.55 L212.54,306.32 L215.92,304.36 L215.92,353.97 L216.19,358.57 L216.99,362.66 L220.37,364.48 L220.37,313.55 L220.63,308.08 L221.44,305.83 L224.82,303.92 L224.82,354.21 L225.08,358.86 L225.88,363.00 L229.26,364.79 L229.26,313.31 L229.53,307.78 L230.33,305.50 L233.71,303.56 L233.71,354.42 L233.98,359.11 L234.78,363.29 L238.16,365.11 L238.16,313.06 L238.43,307.47 L239.23,305.16 L242.61,303.21 L242.61,354.62 L242.87,359.37 L243.68,363.59 L247.06,365.42 L247.06,312.82 L247.32,307.16 L248.12,304.83 L251.50,302.85 L251.50,354.83 L251.77,359.62 L252.57,363.88 L255.95,365.73 L255.95,312.57 L256.22,306.85 L257.02,304.49 L260.40,302.50 L260.40,355.03 L260.67,359.87 L261.47,364.18 L264.85,366.05 L264.85,312.33 L265.11,306.54 L265.92,304.16 L269.30,302.14 L269.30,355.24 L269.56,360.13 L270.36,364.47 L273.74,366.36 L273.74,312.08 L274.01,306.23 L274.81,303.82 L278.19,301.78 L278.19,355.44 L278.46,360.38 L279.26,364.77 L282.64,366.67 L282.64,311.84 L282.91,305.92 L283.71,303.48 L287.09,301.38 L287.09,355.60 L287.35,360.57 L288.16,364.98 L291.54,366.84 L291.54,311.53 L291.80,305.53 L292.60,303.06 L295.98,300.94 L295.98,355.71 L296.25,360.71 L297.05,365.14 L300.43,367.01 L300.43,311.22 L300.70,305.15 L301.50,302.64 L304.88,300.49 L304.88,355.82 L305.15,360.84 L305.95,365.30 L309.33,367.18 L309.33,310.92 L309.59,304.76 L310.40,302.22 L313.78,300.05 L313.78,355.93 L314.04,360.98 L314.84,365.46 L318.22,367.35 L318.22,310.61 L318.49,304.37 L319.29,301.80 L322.67,299.60 L322.67,356.04 L322.94,361.11 L323.74,365.62 L327.12,367.51 L327.12,310.30 L327.39,303.98 L328.19,301.38 L331.57,299.15 L331.57,356.15 L331.83,361.25 L332.64,365.78 L336.02,367.68 L336.02,309.99 L336.28,303.60 L337.08,300.96 L340.46,298.71 L340.46,356.26 L340.73,361.39 L341.53,365.93 L344.91,367.85 L344.91,309.69 L345.18,303.21 L345.98,300.54 L349.36,298.26 L349.36,356.37 L349.63,361.53 L350.43,366.16 L353.81,368.30 L353.81,309.38 L354.07,302.82 L354.88,300.12 L358.26,297.81 L358.26,356.85 L358.52,362.13 L359.32,366.85 L362.70,369.03 L362.70,309.07 L362.97,302.43 L363.77,299.70 L367.15,297.37 L367.15,357.33 L367.42,362.72 L368.22,367.54 L371.60,369.76 L371.60,308.76 L371.87,302.05 L372.67,299.28 L376.05,296.92 L376.05,357.80 L376.31,363.31 L377.12,368.23 L380.50,370.50 L380.50,308.46 L380.76,301.66 L381.56,298.86 L384.94,296.48 L384.94,358.28 L385.21,363.90 L386.01,368.92 L389.39,371.23 L389.39,308.15 L389.66,301.27 L390.46,298.44 L393.84,296.03 L393.84,358.76 L394.11,364.49 L394.91,369.61 L398.29,371.96 L398.29,307.84 L398.55,300.88 L399.36,298.02 L402.74,295.58 L402.74,359.24 L403.00,365.08 L403.80,370.30 L407.18,372.69 L407.18,307.53 L407.45,300.50 L408.25,297.60 L411.63,295.14 L411.63,359.72 L411.90,365.67 L412.70,370.99 L416.08,373.42 L416.08,307.23 L416.35,300.11 L417.15,297.18 L420.53,294.69 L420.53,360.20 L420.79,366.26 L421.60,371.68 L424.98,374.15 L424.98,306.92 L425.24,299.72 L426.04,296.76 L429.42,294.25 L429.42,360.67 L429.69,366.85 L430.49,372.37 L433.87,374.88 L433.87,306.61 L434.14,299.34 L434.94,296.34 L438.32,293.80 L438.32,361.15 L438.59,367.45 L439.39,373.06 L442.77,375.53 L442.77,306.31 L443.03,298.95 L443.84,295.92 L447.22,293.36 L447.22,361.39 L447.48,367.73 L448.28,373.35 L451.66,375.70 L451.66,306.00 L451.93,298.56 L452.73,295.50 L456.11,292.91 L456.11,361.50 L456.38,367.86 L457.18,373.51 L460.56,375.87 L460.56,305.69 L460.83,298.18 L461.63,295.08 L465.01,292.47 L465.01,361.61 L465.27,368.00 L466.08,373.67 L469.46,376.04 L469.46,305.39 L469.72,297.79 L470.52,294.66 L473.90,292.02 L473.90,361.72 L474.17,368.14 L474.97,373.82 L478.35,376.21 L478.35,305.08 L478.62,297.40 L479.42,294.24 L482.80,291.58 L482.80,361.83 L483.07,368.27 L483.87,373.98 L487.25,376.38 L487.25,304.77 L487.51,297.02 L488.32,293.82 L491.70,291.13 L491.70,361.94 L491.96,368.41 L492.76,374.14 L496.14,376.54 L496.14,304.47 L496.41,296.63 L497.21,293.40 L500.59,290.69 L500.59,362.06 L500.86,368.55 L501.66,374.30 L505.04,376.71 L505.04,304.16 L505.31,296.24 L506.11,292.99 L509.49,290.24 L509.49,362.17 L509.75,368.68 L510.56,374.46 L513.94,376.88 L513.94,303.85 L514.20,295.86 L515.00,292.57 L518.38,289.80 L518.38,362.35 L518.65,368.92 L519.45,374.78 L522.83,377.38 L522.83,303.55 L523.10,295.47 L523.90,292.15 L527.28,289.35 L527.28,362.75 L527.55,369.41 L528.35,375.35 L531.73,377.99 L531.73,303.24 L531.99,295.08 L532.80,291.73 L536.18,288.91 L536.18,363.14 L536.44,369.90 L537.24,375.92 L540.62,378.60 L540.62,302.93 L540.89,294.70 L541.69,291.31 L545.07,288.46 L545.07,363.54 L545.34,370.39 L546.14,376.50 L549.52,379.21 L549.52,302.63 L549.79,294.31 L550.59,290.89 L553.97,288.02 L553.97,363.94 L554.23,370.88 L555.04,377.07 L558.42,379.81 L558.42,302.32 L558.68,293.92 L559.48,290.47 L562.86,287.57 L562.86,364.34 L563.13,371.38 L563.93,377.65 L567.31,380.47 L567.31,302.01 L567.58,293.54 L568.38,290.05 L571.76,287.13 L571.76,364.86 L572.03,372.02 L572.83,378.43 L576.21,381.35 L576.21,301.71 L576.47,293.15 L577.28,289.63 L580.66,286.68 L580.66,365.43 L580.92,372.73 L581.72,379.25 L585.10,382.33 L585.10,301.12 L585.37,292.36 L586.17,288.64 L589.55,285.00 L589.55,366.22 L589.82,373.72 L590.62,380.45 L594.00,383.66 L594.00,299.68 L594.27,290.55 L595.07,286.67 L598.45,282.91 L598.45,367.09 L598.71,374.79 L599.52,381.70 L602.90,385.21 L602.90,298.24 L603.16,288.74 L603.96,284.71 L607.34,280.83 L607.34,368.35 L607.61,376.36 L608.41,383.60 L611.79,387.28 L611.79,296.80 L612.06,286.92 L612.86,282.74 L616.24,278.64 L616.24,369.70 L616.51,378.04 L617.31,385.56 L620.69,389.33 L620.69,295.19 L620.95,284.88 L621.76,280.50 L625.14,276.24 L625.14,370.99 L625.40,379.63 L626.20,387.40 L629.58,390.99 L629.58,293.54 L629.85,282.80 L630.65,278.24 L634.03,273.84 L634.03,371.52 L634.30,380.24 L635.10,387.97 L638.48,391.87 L638.48,291.88 L638.75,280.71 L639.55,275.98 L642.93,271.17 L642.93,372.96 L643.19,382.09 L644.00,390.36 L647.38,394.63 L647.38,289.74 L647.64,277.99 L648.44,272.96 L651.82,267.15 L651.82,374.66 L652.09,384.18 L652.89,392.78 L656.27,397.33 L656.27,285.94 L656.54,273.12 L657.34,267.42 L660.72,261.00 L660.72,376.59 L660.99,386.57 L661.79,395.61 L665.17,400.62 L665.17,281.91 L665.43,268.06 L666.24,261.98 L669.62,254.51 L669.62,379.08 L669.88,389.67 L670.68,399.32 L674.06,406.45 L674.06,275.55 L674.33,259.90 L675.13,252.68 L678.51,241.98 L678.51,384.54 L678.78,396.54 L679.58,408.48 L682.96,420.29 L682.96,265.00 L683.23,246.46 L684.03,237.63" fill="none" stroke="#780a8a" stroke-width="2.4" stroke-linejoin="round"/>
<path d="M695.7,17.1 V651.9" stroke="#780a8a" stroke-width="2.6"/><path d="M700.7,17.1 V651.9" stroke="#780a8a" stroke-width="2.6"/><path d="M705.1,17.1 V651.9" stroke="#780a8a" stroke-width="2.6"/><path d="M709.7,17.1 V651.9" stroke="#780a8a" stroke-width="2.6"/><path d="M715.0,17.1 V651.9" stroke="#780a8a" stroke-width="2.6"/><path d="M720.2,17.1 V651.9" stroke="#780a8a" stroke-width="2.6"/><path d="M725.3,17.1 V651.9" stroke="#780a8a" stroke-width="2.6"/><path d="M731.0,17.1 V651.9" stroke="#780a8a" stroke-width="2.6"/><path d="M736.1,17.1 V651.9" stroke="#780a8a" stroke-width="2.6"/><path d="M741.3,17.1 V651.9" stroke="#780a8a" stroke-width="2.6"/><path d="M746.9,17.1 V651.9" stroke="#780a8a" stroke-width="2.6"/><path d="M751.6,17.1 V651.9" stroke="#780a8a" stroke-width="2.6"/><path d="M756.9,17.1 V651.9" stroke="#780a8a" stroke-width="2.6"/><path d="M761.7,17.1 V651.9" stroke="#780a8a" stroke-width="2.6"/><path d="M767.4,17.1 V651.9" stroke="#780a8a" stroke-width="2.6"/><path d="M773.0,17.1 V651.9" stroke="#780a8a" stroke-width="2.6"/><path d="M778.1,17.1 V651.9" stroke="#780a8a" stroke-width="2.6"/><path d="M783.5,17.1 V651.9" stroke="#780a8a" stroke-width="2.6"/><path d="M788.7,17.1 V651.9" stroke="#780a8a" stroke-width="2.6"/><path d="M793.6,17.1 V651.9" stroke="#780a8a" stroke-width="2.6"/><path d="M798.9,17.1 V651.9" stroke="#780a8a" stroke-width="2.6"/><path d="M803.9,17.1 V651.9" stroke="#780a8a" stroke-width="2.6"/><path d="M809.7,17.1 V651.9" stroke="#780a8a" stroke-width="2.6"/><path d="M686.4,17.1 V651.9" stroke="#780a8a" stroke-width="2.6"/><path d="M689.6,17.1 V651.9" stroke="#780a8a" stroke-width="2.6"/><path d="M693.3,17.1 V651.9" stroke="#780a8a" stroke-width="2.6"/><path d="M813.6,17.1 V651.9" stroke="#780a8a" stroke-width="2.6"/>
</g>
<g clip-path="url(#cs)"><path d="M149.20,316.59 L149.47,311.90 L150.27,309.95 L153.65,308.22 L153.65,351.97 L153.91,356.10 L154.72,359.78 L158.10,361.43 L158.10,316.21 L158.36,311.42 L159.16,309.44 L162.54,307.67 L162.54,352.26 L162.81,356.45 L163.61,360.19 L166.99,361.87 L166.99,315.83 L167.26,310.95 L168.06,308.92 L171.44,307.12 L171.44,352.54 L171.71,356.80 L172.51,360.60 L175.89,362.31 L175.89,315.45 L176.15,310.47 L176.96,308.40 L180.34,306.57 L180.34,352.83 L180.60,357.15 L181.40,361.01 L184.78,362.74 L184.78,315.07 L185.05,309.99 L185.85,307.88 L189.23,306.02 L189.23,353.11 L189.50,357.51 L190.30,361.43 L193.68,363.18 L193.68,314.69 L193.95,309.51 L194.75,307.36 L198.13,305.46 L198.13,353.40 L198.39,357.86 L199.20,361.84 L202.58,363.61 L202.58,314.31 L202.84,309.03 L203.64,306.84 L207.02,304.91 L207.02,353.69 L207.29,358.21 L208.09,362.25 L211.47,364.05 L211.47,313.93 L211.74,308.55 L212.54,306.32 L215.92,304.36 L215.92,353.97 L216.19,358.57 L216.99,362.66 L220.37,364.48 L220.37,313.55 L220.63,308.08 L221.44,305.83 L224.82,303.92 L224.82,354.21 L225.08,358.86 L225.88,363.00 L229.26,364.79 L229.26,313.31 L229.53,307.78 L230.33,305.50 L233.71,303.56 L233.71,354.42 L233.98,359.11 L234.78,363.29 L238.16,365.11 L238.16,313.06 L238.43,307.47 L239.23,305.16 L242.61,303.21 L242.61,354.62 L242.87,359.37 L243.68,363.59 L247.06,365.42 L247.06,312.82 L247.32,307.16 L248.12,304.83 L251.50,302.85 L251.50,354.83 L251.77,359.62 L252.57,363.88 L255.95,365.73 L255.95,312.57 L256.22,306.85 L257.02,304.49 L260.40,302.50 L260.40,355.03 L260.67,359.87 L261.47,364.18 L264.85,366.05 L264.85,312.33 L265.11,306.54 L265.92,304.16 L269.30,302.14 L269.30,355.24 L269.56,360.13 L270.36,364.47 L273.74,366.36 L273.74,312.08 L274.01,306.23 L274.81,303.82 L278.19,301.78 L278.19,355.44 L278.46,360.38 L279.26,364.77 L282.64,366.67 L282.64,311.84 L282.91,305.92 L283.71,303.48 L287.09,301.38 L287.09,355.60 L287.35,360.57 L288.16,364.98 L291.54,366.84 L291.54,311.53 L291.80,305.53 L292.60,303.06 L295.98,300.94 L295.98,355.71 L296.25,360.71 L297.05,365.14 L300.43,367.01 L300.43,311.22 L300.70,305.15 L301.50,302.64 L304.88,300.49 L304.88,355.82 L305.15,360.84 L305.95,365.30 L309.33,367.18 L309.33,310.92 L309.59,304.76 L310.40,302.22 L313.78,300.05 L313.78,355.93 L314.04,360.98 L314.84,365.46 L318.22,367.35 L318.22,310.61 L318.49,304.37 L319.29,301.80 L322.67,299.60 L322.67,356.04 L322.94,361.11 L323.74,365.62 L327.12,367.51 L327.12,310.30 L327.39,303.98 L328.19,301.38 L331.57,299.15 L331.57,356.15 L331.83,361.25 L332.64,365.78 L336.02,367.68 L336.02,309.99 L336.28,303.60 L337.08,300.96 L340.46,298.71 L340.46,356.26 L340.73,361.39 L341.53,365.93 L344.91,367.85 L344.91,309.69 L345.18,303.21 L345.98,300.54 L349.36,298.26 L349.36,356.37 L349.63,361.53 L350.43,366.16 L353.81,368.30 L353.81,309.38 L354.07,302.82 L354.88,300.12 L358.26,297.81 L358.26,356.85 L358.52,362.13 L359.32,366.85 L362.70,369.03 L362.70,309.07 L362.97,302.43 L363.77,299.70 L367.15,297.37 L367.15,357.33 L367.42,362.72 L368.22,367.54 L371.60,369.76 L371.60,308.76 L371.87,302.05 L372.67,299.28 L376.05,296.92 L376.05,357.80 L376.31,363.31 L377.12,368.23 L380.50,370.50 L380.50,308.46 L380.76,301.66 L381.56,298.86 L384.94,296.48 L384.94,358.28 L385.21,363.90 L386.01,368.92 L389.39,371.23 L389.39,308.15 L389.66,301.27 L390.46,298.44 L393.84,296.03 L393.84,358.76 L394.11,364.49 L394.91,369.61 L398.29,371.96 L398.29,307.84 L398.55,300.88 L399.36,298.02 L402.74,295.58 L402.74,359.24 L403.00,365.08 L403.80,370.30 L407.18,372.69 L407.18,307.53 L407.45,300.50 L408.25,297.60 L411.63,295.14 L411.63,359.72 L411.90,365.67 L412.70,370.99 L416.08,373.42 L416.08,307.23 L416.35,300.11 L417.15,297.18 L420.53,294.69 L420.53,360.20 L420.79,366.26 L421.60,371.68 L424.98,374.15 L424.98,306.92 L425.24,299.72 L426.04,296.76 L429.42,294.25 L429.42,360.67 L429.69,366.85 L430.49,372.37 L433.87,374.88 L433.87,306.61 L434.14,299.34 L434.94,296.34 L438.32,293.80 L438.32,361.15 L438.59,367.45 L439.39,373.06 L442.77,375.53 L442.77,306.31 L443.03,298.95 L443.84,295.92 L447.22,293.36 L447.22,361.39 L447.48,367.73 L448.28,373.35 L451.66,375.70 L451.66,306.00 L451.93,298.56 L452.73,295.50 L456.11,292.91 L456.11,361.50 L456.38,367.86 L457.18,373.51 L460.56,375.87 L460.56,305.69 L460.83,298.18 L461.63,295.08 L465.01,292.47 L465.01,361.61 L465.27,368.00 L466.08,373.67 L469.46,376.04 L469.46,305.39 L469.72,297.79 L470.52,294.66 L473.90,292.02 L473.90,361.72 L474.17,368.14 L474.97,373.82 L478.35,376.21 L478.35,305.08 L478.62,297.40 L479.42,294.24 L482.80,291.58 L482.80,361.83 L483.07,368.27 L483.87,373.98 L487.25,376.38 L487.25,304.77 L487.51,297.02 L488.32,293.82 L491.70,291.13 L491.70,361.94 L491.96,368.41 L492.76,374.14 L496.14,376.54 L496.14,304.47 L496.41,296.63 L497.21,293.40 L500.59,290.69 L500.59,362.06 L500.86,368.55 L501.66,374.30 L505.04,376.71 L505.04,304.16 L505.31,296.24 L506.11,292.99 L509.49,290.24 L509.49,362.17 L509.75,368.68 L510.56,374.46 L513.94,376.88 L513.94,303.85 L514.20,295.86 L515.00,292.57 L518.38,289.80 L518.38,362.35 L518.65,368.92 L519.45,374.78 L522.83,377.38 L522.83,303.55 L523.10,295.47 L523.90,292.15 L527.28,289.35 L527.28,362.75 L527.55,369.41 L528.35,375.35 L531.73,377.99 L531.73,303.24 L531.99,295.08 L532.80,291.73 L536.18,288.91 L536.18,363.14 L536.44,369.90 L537.24,375.92 L540.62,378.60 L540.62,302.93 L540.89,294.70 L541.69,291.31 L545.07,288.46 L545.07,363.54 L545.34,370.39 L546.14,376.50 L549.52,379.21 L549.52,302.63 L549.79,294.31 L550.59,290.89 L553.97,288.02 L553.97,363.94 L554.23,370.88 L555.04,377.07 L558.42,379.81 L558.42,302.32 L558.68,293.92 L559.48,290.47 L562.86,287.57 L562.86,364.34 L563.13,371.38 L563.93,377.65 L567.31,380.47 L567.31,302.01 L567.58,293.54 L568.38,290.05 L571.76,287.13 L571.76,364.86 L572.03,372.02 L572.83,378.43 L576.21,381.35 L576.21,301.71 L576.47,293.15 L577.28,289.63 L580.66,286.68 L580.66,365.43 L580.92,372.73 L581.72,379.25 L585.10,382.33 L585.10,301.12 L585.37,292.36 L586.17,288.64 L589.55,285.00 L589.55,366.22 L589.82,373.72 L590.62,380.45 L594.00,383.66 L594.00,299.68 L594.27,290.55 L595.07,286.67 L598.45,282.91 L598.45,367.09 L598.71,374.79 L599.52,381.70 L602.90,385.21 L602.90,298.24 L603.16,288.74 L603.96,284.71 L607.34,280.83 L607.34,368.35 L607.61,376.36 L608.41,383.60 L611.79,387.28 L611.79,296.80 L612.06,286.92 L612.86,282.74 L616.24,278.64 L616.24,369.70 L616.51,378.04 L617.31,385.56 L620.69,389.33 L620.69,295.19 L620.95,284.88 L621.76,280.50 L625.14,276.24 L625.14,370.99 L625.40,379.63 L626.20,387.40 L629.58,390.99 L629.58,293.54 L629.85,282.80 L630.65,278.24 L634.03,273.84 L634.03,371.52 L634.30,380.24 L635.10,387.97 L638.48,391.87 L638.48,291.88 L638.75,280.71 L639.55,275.98 L642.93,271.17 L642.93,372.96 L643.19,382.09 L644.00,390.36 L647.38,394.63 L647.38,289.74 L647.64,277.99 L648.44,272.96 L651.82,267.15 L651.82,374.66 L652.09,384.18 L652.89,392.78 L656.27,397.33 L656.27,285.94 L656.54,273.12 L657.34,267.42 L660.72,261.00 L660.72,376.59 L660.99,386.57 L661.79,395.61 L665.17,400.62 L665.17,281.91 L665.43,268.06 L666.24,261.98 L669.62,254.51 L669.62,379.08 L669.88,389.67 L670.68,399.32 L674.06,406.45 L674.06,275.55 L674.33,259.90 L675.13,252.68 L678.51,241.98 L678.51,384.54 L678.78,396.54 L679.58,408.48 L682.96,420.29 L682.96,265.00 L683.23,246.46 L684.03,237.63" fill="none" stroke="#1a1acc" stroke-width="2.8" stroke-linejoin="round"/></g>
<path d="M282.64,651.9 V640.4 M282.64,17.1 V28.6 M416.08,651.9 V640.4 M416.08,17.1 V28.6 M549.52,651.9 V640.4 M549.52,17.1 V28.6 M682.96,651.9 V640.4 M682.96,17.1 V28.6 M149.2,493.20 H160.7 M816.4,493.20 H804.9 M149.2,334.50 H160.7 M816.4,334.50 H804.9 M149.2,175.80 H160.7 M816.4,175.80 H804.9 " stroke="#606060" stroke-width="1.8" fill="none"/>
<rect x="922.3" y="17.1" width="338.0" height="634.8" fill="none" stroke="#606060" stroke-width="1.6"/>
<path d="M1091.30,651.9 V640.4 M1091.30,17.1 V28.6 M922.3,493.20 H933.8 M1260.3,493.20 H1248.8 M922.3,334.50 H933.8 M1260.3,334.50 H1248.8 M922.3,175.80 H933.8 M1260.3,175.80 H1248.8 " stroke="#606060" stroke-width="1.8" fill="none"/>
<g>
<path d="M922.30,366.35 L922.30,322.31 L922.98,320.94 L923.99,319.19 L925.68,316.90 L928.22,314.54 L930.75,313.02 L934.13,311.77 L939.20,310.76 L945.96,310.11 L954.41,309.69 L964.55,309.41 L978.63,309.19 L978.63,354.00 L979.31,355.14 L980.32,356.62 L982.01,358.57 L984.55,360.62 L987.08,361.99 L990.46,363.18 L995.53,364.24 L1002.29,365.05 L1010.74,365.68 L1020.88,366.17 L1034.96,366.59 L1034.97,322.20 L1035.64,320.82 L1036.66,319.05 L1038.35,316.74 L1040.88,314.36 L1043.42,312.83 L1046.80,311.57 L1051.87,310.55 L1058.63,309.89 L1067.08,309.47 L1077.22,309.18 L1091.29,308.96 L1091.30,354.15 L1091.98,355.30 L1092.99,356.79 L1094.68,358.75 L1097.21,360.82 L1099.75,362.19 L1103.13,363.39 L1108.20,364.46 L1114.96,365.28 L1123.41,365.91 L1133.55,366.40 L1147.63,366.83 L1147.63,322.09 L1148.31,320.70 L1149.32,318.91 L1151.01,316.58 L1153.55,314.18 L1156.08,312.64 L1159.46,311.37 L1164.53,310.34 L1171.29,309.67 L1179.74,309.25 L1189.88,308.96 L1203.96,308.74 L1203.97,354.29 L1204.64,355.46 L1205.66,356.95 L1207.35,358.93 L1209.88,361.01 L1212.42,362.40 L1215.80,363.61 L1220.87,364.69 L1227.63,365.52 L1236.08,366.15 L1246.22,366.64 L1260.29,367.08" fill="none" stroke="#f01616" stroke-width="4.6" stroke-linejoin="round"/>
<path d="M922.30,366.67 L922.30,311.84 L922.98,309.84 L923.99,307.81 L925.68,305.92 L928.22,304.68 L930.75,304.11 L934.13,303.66 L939.20,303.16 L945.96,302.66 L954.41,302.18 L964.55,301.76 L978.63,301.38 L978.63,355.60 L979.31,356.91 L980.32,358.54 L982.01,360.57 L984.55,362.54 L987.08,363.73 L990.46,364.67 L995.53,365.42 L1002.29,365.95 L1010.74,366.34 L1020.88,366.62 L1034.96,366.84 L1034.97,311.53 L1035.64,309.51 L1036.66,307.44 L1038.35,305.53 L1040.88,304.28 L1043.42,303.70 L1046.80,303.24 L1051.87,302.74 L1058.63,302.22 L1067.08,301.74 L1077.22,301.32 L1091.29,300.94 L1091.30,355.71 L1091.98,357.02 L1092.99,358.66 L1094.68,360.71 L1097.21,362.69 L1099.75,363.89 L1103.13,364.83 L1108.20,365.59 L1114.96,366.12 L1123.41,366.50 L1133.55,366.78 L1147.63,367.01 L1147.63,311.22 L1148.31,309.17 L1149.32,307.08 L1151.01,305.15 L1153.55,303.87 L1156.08,303.29 L1159.46,302.82 L1164.53,302.32 L1171.29,301.79 L1179.74,301.30 L1189.88,300.88 L1203.96,300.49 L1203.97,355.82 L1204.64,357.14 L1205.66,358.79 L1207.35,360.84 L1209.88,362.83 L1212.42,364.04 L1215.80,364.99 L1220.87,365.75 L1227.63,366.28 L1236.08,366.67 L1246.22,366.95 L1260.29,367.18" fill="none" stroke="#0c0cd6" stroke-width="5.6" stroke-linejoin="round" stroke-linecap="round"/>
</g>
<g fill="none" stroke="#000">
<path d="M281.9,19.5 H333" stroke-width="4.3" stroke-dasharray="17.4 6.9"/>
<path d="M284.4,28.6 V630" stroke-width="4.9" stroke-dasharray="18.1 6.0"/><path d="M284.4,631.4 V651.5" stroke-width="4.9"/>
<path d="M330.7,17.4 V36" stroke-width="5"/><path d="M330.7,43.5 V641" stroke-width="5" stroke-dasharray="17 7.116"/>
<path d="M292.3,649 H310.4 M316.3,649 H333.3" stroke-width="4.3"/>
<path d="M328,227.1 H346.6 M352,227.1 H949.4" stroke-width="4.2" stroke-dasharray="15.1 4.98"/>
<path d="M933.4,217.9 L952.6,227.1 L933.4,236.3" stroke-width="4.6" stroke-linecap="round" stroke-linejoin="round"/>
</g>
<text x="149.2" y="694.2" font-family='"Liberation Sans", Arial, sans-serif' font-weight="bold" font-size="37.5" text-anchor="middle" fill="#000" style="font-kerning:none">0</text>
<text x="282.6" y="694.2" font-family='"Liberation Sans", Arial, sans-serif' font-weight="bold" font-size="37.5" text-anchor="middle" fill="#000" style="font-kerning:none">10</text>
<text x="416.1" y="694.2" font-family='"Liberation Sans", Arial, sans-serif' font-weight="bold" font-size="37.5" text-anchor="middle" fill="#000" style="font-kerning:none">20</text>
<text x="549.5" y="694.2" font-family='"Liberation Sans", Arial, sans-serif' font-weight="bold" font-size="37.5" text-anchor="middle" fill="#000" style="font-kerning:none">30</text>
<text x="683.0" y="694.2" font-family='"Liberation Sans", Arial, sans-serif' font-weight="bold" font-size="37.5" text-anchor="middle" fill="#000" style="font-kerning:none">40</text>
<text x="816.4" y="694.2" font-family='"Liberation Sans", Arial, sans-serif' font-weight="bold" font-size="37.5" text-anchor="middle" fill="#000" style="font-kerning:none">50</text>
<text x="922.3" y="694.2" font-family='"Liberation Sans", Arial, sans-serif' font-weight="bold" font-size="37.5" text-anchor="middle" fill="#000" style="font-kerning:none">10</text>
<text x="1091.3" y="694.2" font-family='"Liberation Sans", Arial, sans-serif' font-weight="bold" font-size="37.5" text-anchor="middle" fill="#000" style="font-kerning:none">11</text>
<text x="1260.3" y="694.2" font-family='"Liberation Sans", Arial, sans-serif' font-weight="bold" font-size="37.5" text-anchor="middle" fill="#000" style="font-kerning:none">12</text>
<text x="140.6" y="26.4" font-family='"Liberation Sans", Arial, sans-serif' font-weight="bold" font-size="37.5" text-anchor="end" fill="#000" style="font-kerning:none">0.1</text>
<text x="140.6" y="185.1" font-family='"Liberation Sans", Arial, sans-serif' font-weight="bold" font-size="37.5" text-anchor="end" fill="#000" style="font-kerning:none">0.05</text>
<text x="140.6" y="343.8" font-family='"Liberation Sans", Arial, sans-serif' font-weight="bold" font-size="37.5" text-anchor="end" fill="#000" style="font-kerning:none">0</text>
<text x="140.6" y="502.5" font-family='"Liberation Sans", Arial, sans-serif' font-weight="bold" font-size="37.5" text-anchor="end" fill="#000" style="font-kerning:none">-0.05</text>
<text x="140.6" y="661.2" font-family='"Liberation Sans", Arial, sans-serif' font-weight="bold" font-size="37.5" text-anchor="end" fill="#000" style="font-kerning:none">-0.1</text>
<path d="M263.66,689.58 H270.54 V695.20 H263.66 Z M275.68,689.58 H282.03 V695.20 H275.68 Z M903.32,689.58 H910.20 V695.20 H903.32 Z M915.34,689.58 H921.69 V695.20 H915.34 Z M1072.32,689.58 H1079.20 V695.20 H1072.32 Z M1084.34,689.58 H1090.69 V695.20 H1084.34 Z M1093.17,689.58 H1100.05 V695.20 H1093.17 Z M1105.20,689.58 H1111.55 V695.20 H1105.20 Z M1241.32,689.58 H1248.20 V695.20 H1241.32 Z M1253.34,689.58 H1259.69 V695.20 H1253.34 Z M121.62,21.78 H128.50 V27.40 H121.62 Z M133.64,21.78 H139.99 V27.40 H133.64 Z M121.62,656.57 H128.50 V662.20 H121.62 Z M133.64,656.57 H139.99 V662.20 H133.64 Z " fill="#fff"/>
<text x="481.3" y="741.1" font-family='"Liberation Sans", Arial, sans-serif' font-weight="bold" font-size="37.5" text-anchor="middle" fill="#000" >Time (h)</text>
<text x="1092.0" y="740.5" font-family='"Liberation Sans", Arial, sans-serif' font-weight="bold" font-size="37.5" text-anchor="middle" fill="#000" >Time (h)</text>
<text transform="translate(37,513.9) rotate(-90)" font-family='"Liberation Sans", Arial, sans-serif' font-weight="bold" font-size="37.5" fill="#000" letter-spacing="0.12">Potential (V vs M<tspan dy="-20.5" font-size="25">+</tspan><tspan dy="20.5">/M)</tspan></text>
<text x="438.2" y="495.8" font-family='"Liberation Sans", Arial, sans-serif' font-weight="bold" font-size="60" fill="#ee1111"><tspan textLength="26.1" lengthAdjust="spacingAndGlyphs">L</tspan><tspan x="464.4">i</tspan></text>
<text x="437.0" y="576.5" font-family='"Liberation Sans", Arial, sans-serif' font-weight="bold" font-size="60" text-anchor="start" fill="#1010e8" textLength="75" lengthAdjust="spacingAndGlyphs">Na</text>
</svg>
</body></html>
